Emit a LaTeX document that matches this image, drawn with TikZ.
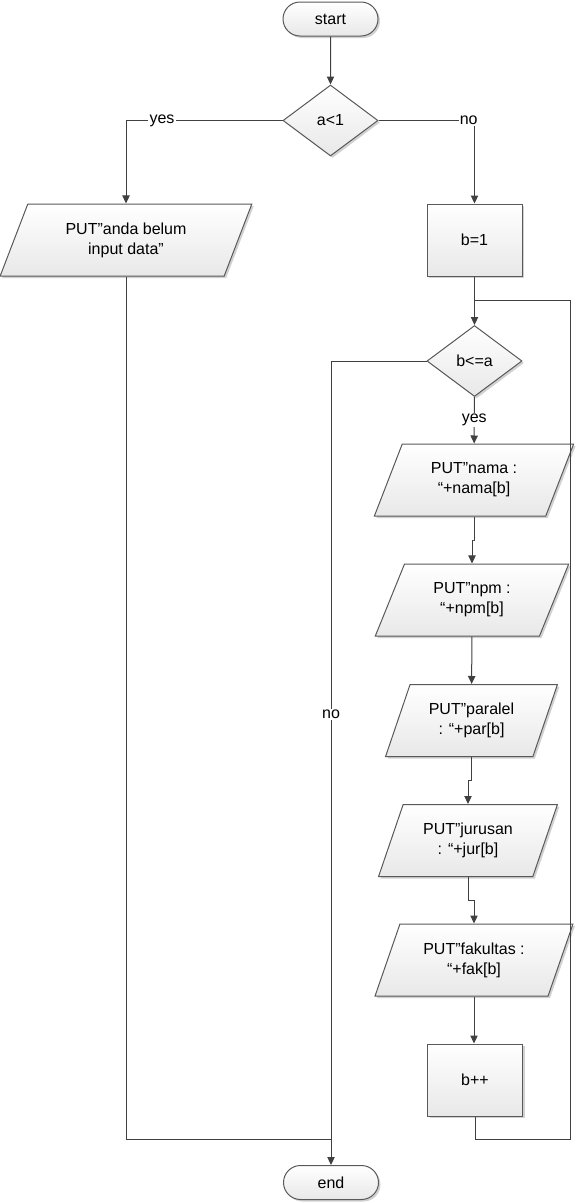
\documentclass[tikz,border=0pt]{standalone}
\usepackage{fontspec}
\setmainfont{Liberation Sans}[Ligatures=ResetAll]
\usetikzlibrary{shapes.geometric,shapes.misc,arrows.meta,shadows,calc}

\tikzset{every picture/.style={line width=0.75pt}}
\tikzset{
  flowbase/.style={draw=black!65, top color=white, bottom color=black!9,
    drop shadow={shadow xshift=1.5pt, shadow yshift=-1.5pt, opacity=0.18, fill=black},
    font=\fontsize{12}{15}\selectfont, align=center, inner sep=0pt},
  terminal/.style={flowbase, rounded rectangle, minimum width=71.25pt, minimum height=25.5pt},
  decision/.style={flowbase, diamond, minimum width=71.25pt, minimum height=53.25pt},
  process/.style={flowbase, rectangle, minimum width=71.25pt, minimum height=54pt},
  iobox/.style={flowbase, trapezium, trapezium left angle=64, trapezium right angle=116,
    trapezium stretches=true, minimum height=54pt, minimum width=#1},
  conn/.style={draw=black!75},
  arrow/.style={conn, -{Triangle[length=6pt,width=5.5pt]}},
  lbl/.style={fill=white, inner sep=1pt, font=\fontsize{12}{15}\selectfont},
}

\begin{document}
\begin{tikzpicture}[x=0.75pt,y=0.75pt,yscale=-1,xscale=1]
\path[use as bounding box] (0,0) rectangle (579,1203);

%Flowchart: Terminator
\node[terminal] (start) at (330.5,19) {start};
%Flowchart: Decision
\node[decision] (a1) at (330.5,120.5) {a<1};
%Flowchart: Data
\node[iobox=189pt] (anda) at (126,240) {PUT”anda belum\\input data"};
%Flowchart: Process
\node[process] (b1) at (474.5,240) {b=1};
%Flowchart: Decision
\node[decision] (b2) at (474.5,361) {b<=a};
%Flowchart: Data
\node[iobox=150pt] (nama) at (474,480) {PUT”nama :\\“+nama[b]};
\node[iobox=145.5pt] (npm) at (472,600) {PUT”npm :\\“+npm[b]};
\node[iobox=129.75pt] (par) at (471.5,720.5) {PUT”paralel\\: “+par[b]};
\node[iobox=135pt] (jur) at (468,840.5) {PUT”jurusan\\: “+jur[b]};
\node[iobox=148.5pt] (fak) at (474,960) {PUT”fakultas :\\“+fak[b]};
%Flowchart: Process
\node[process] (bpp) at (475,1080) {b++};
%Flowchart: Terminator
\node[terminal] (end) at (331,1182.5) {end};

%Connectors
\coordinate (jn) at (331,1139);
\coordinate (lp1) at (570,1139);
\coordinate (lp2) at (570,300);

\draw[arrow] (start) -- (a1);
\draw[arrow] (a1.west) -| node[lbl, pos=0.385] {yes} (anda.north);
\draw[arrow] (a1.east) -| node[lbl, pos=0.47] {no} (b1.north);
\draw[arrow] (b1) -- (b2);
\draw[arrow] (b2.west) -| node[lbl, pos=0.72] {no} (end.north);
\draw[arrow] (b2) -- node[lbl] {yes} (nama);
\draw[arrow] (nama.south) |- ($(nama.south)!0.5!(npm.north)$) -| (npm.north);
\draw[arrow] (npm) -- (par);
\draw[arrow] (par.south) |- ($(par.south)!0.5!(jur.north)$) -| (jur.north);
\draw[arrow] (jur.south) |- ($(jur.south)!0.5!(fak.north)$) -| (fak.north);
\draw[arrow] (fak.south) -- (bpp.north -| fak.south);
\draw[conn] (anda.south) |- (jn);
\draw[conn] (bpp.south) |- (lp1) -- (lp2) -- (b1.south |- lp2);

\end{tikzpicture}
\end{document}
